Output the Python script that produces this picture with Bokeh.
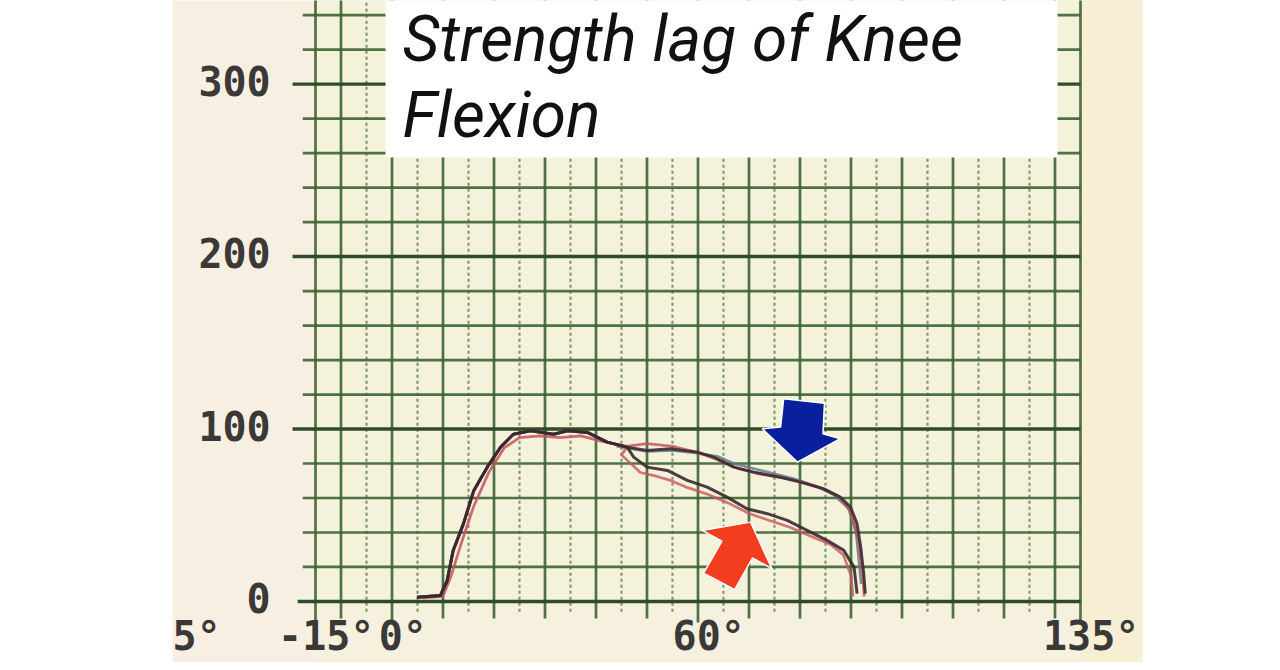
import numpy as np
from bokeh.plotting import figure
from bokeh.models import Range1d
from bokeh.core.properties import value
from bokeh.embed import file_html
from bokeh.resources import INLINE

# ---------------- data ----------------
# knee angle (degrees) / torque for the traced curves
rise_angle = [4.9, 9.5, 10.8, 12.0, 14.0, 16.0, 18.7, 21.3, 23.8, 27.2, 31.7, 34.4, 38.3, 42.2, 46.1]
rise_torque = [2.5, 3.5, 12.0, 29.6, 45.0, 64.0, 78.0, 89.5, 97.0, 99.0, 97.0, 99.0, 98.0, 92.4, 89.5]

upper_dark_angle = [50.0, 54.6, 59.8, 63.1, 67.0, 70.9, 76.2, 80.1, 84.7, 87.9, 89.9, 91.2, 91.9, 92.5, 92.8]
upper_dark_torque = [87.6, 88.5, 86.6, 83.7, 77.9, 75.0, 72.0, 69.2, 65.3, 60.5, 54.7, 45.0, 31.5, 16.0, 4.5]

upper_red_angle = [6.0, 10.0, 11.5, 13.5, 16.0, 19.0, 22.0, 25.0, 29.0, 33.0, 37.0, 41.0, 46.0, 50.0, 55.0, 60.0, 64.0, 68.0, 72.0, 76.0, 80.0, 84.0, 87.5, 90.0, 91.5, 92.3, 92.6]
upper_red_torque = [2.0, 3.0, 14.0, 33.0, 55.0, 75.0, 89.0, 95.0, 96.0, 95.0, 96.0, 93.0, 90.0, 91.5, 90.0, 86.4, 82.0, 77.0, 74.0, 72.0, 69.5, 66.0, 61.0, 52.0, 35.0, 15.0, 3.0]

upper_slate_angle = [44.0, 50.0, 55.0, 60.0, 64.0, 67.0, 71.0, 75.0, 79.0, 83.0, 86.5, 89.5, 91.0, 92.0]
upper_slate_torque = [90.0, 87.0, 87.5, 86.0, 84.0, 80.0, 77.0, 74.0, 71.0, 67.0, 62.0, 54.0, 40.0, 10.0]

lower_dark_angle = [47.4, 50.0, 54.0, 57.9, 61.8, 65.7, 69.6, 73.6, 77.5, 81.4, 85.3, 88.6, 90.6, 91.2]
lower_dark_torque = [83.7, 77.9, 76.0, 70.2, 66.3, 60.5, 53.8, 50.9, 47.0, 41.2, 35.4, 29.6, 19.9, 4.5]

lower_red_angle = [45.0, 48.7, 52.0, 54.6, 58.0, 62.0, 66.0, 70.0, 74.0, 78.0, 82.0, 86.0, 88.5, 90.0, 90.4]
lower_red_torque = [85.0, 74.8, 72.5, 70.2, 66.0, 62.0, 57.0, 51.0, 47.0, 43.0, 38.0, 33.0, 27.0, 15.0, 3.0]

# arrow annotations (angle, torque)
blue_arrow_angle = [76.8, 84.8, 84.5, 87.9, 79.5, 72.6, 76.2]
blue_arrow_torque = [117.6, 115.0, 97.3, 94.4, 80.8, 100.2, 101.1]
red_arrow_angle = [70.3, 74.5, 70.7, 67.2, 61.1, 64.7, 60.8]
red_arrow_torque = [46.0, 19.0, 25.3, 6.8, 16.4, 35.0, 41.2]

# tick labels
x_tick_values = [-15, 0, 60, 135]
x_tick_labels = ["-15°", "0°", "60°", "135°"]
x_edge_label = "5°"
y_tick_values = [0, 100, 200, 300]
y_tick_labels = ["0", "100", "200", "300"]

title_lines = ["Strength lag of Knee", "Flexion"]

# ---------------- figure ----------------
X0, X1 = -43.04, 147.16
Y0, Y1 = -35.4, 348.5
p = figure(width=1264, height=662, output_backend="svg", toolbar_location=None,
           x_range=Range1d(X0, X1), y_range=Range1d(Y0, Y1),
           x_axis_location=None, y_axis_location=None,
           min_border_left=172, min_border_right=122, min_border_top=0, min_border_bottom=0)
p.title.visible = False
p.grid.visible = False
p.outline_line_color = None
p.background_fill_color = "#f8efe3"
p.border_fill_color = "white"

# paper tints
p.quad(left=[-15], right=[135], bottom=[0], top=[Y1 + 5], fill_color="#f4f2da", line_color=None)
p.quad(left=[135], right=[X1 + 1], bottom=[Y0 - 1], top=[Y1 + 5], fill_color="#f8eed4", line_color=None)
p.quad(left=[-15], right=[135], bottom=[Y0 - 1], top=[0], fill_color="#f6f0de", line_color=None)

# grid
grid_col = "#3d6434"
solid_x = [-15, -10] + list(range(0, 131, 10)) + [135]
long_ticks = set(x_tick_values)
sx0 = [x for x in solid_x]
sy0 = [-12.2 if x in long_ticks else -9.9 for x in solid_x]
p.segment(x0=sx0, y0=sy0, x1=sx0, y1=[Y1 + 5] * len(sx0), line_color=grid_col, line_width=2.7, line_alpha=0.9)

dot_x = [-5] + list(range(5, 126, 10))
p.segment(x0=dot_x, y0=[-6] * len(dot_x), x1=dot_x, y1=[Y1 + 5] * len(dot_x),
          line_color="#6b8a5c", line_width=2.2, line_dash="3 3", line_alpha=0.85)

minor_y = [v for v in range(20, 345, 20) if v % 100 != 0]
p.segment(x0=[-17.5] * len(minor_y), y0=minor_y, x1=[135] * len(minor_y), y1=minor_y,
          line_color=grid_col, line_width=2.7, line_alpha=0.9)
major_y = [0, 100, 200, 300]
p.segment(x0=[-18.5, -19.5, -19.5, -19.5], y0=major_y, x1=[135] * 4, y1=major_y,
          line_color="#2f4c29", line_width=3.4)

# curves
def trace(a, t, color, width, alpha):
    p.line(a, t, line_color=color, line_width=width, line_alpha=alpha, line_join="round")

trace(upper_slate_angle, upper_slate_torque, "#5b7486", 2.6, 0.8)
trace(upper_red_angle, upper_red_torque, "#c4525c", 2.7, 0.85)
trace(rise_angle + lower_red_angle, rise_torque + lower_red_torque, "#c8555e", 2.7, 0.8)
trace(rise_angle + upper_dark_angle, rise_torque + upper_dark_torque, "#3b2a33", 3.0, 0.9)
trace(rise_angle + lower_dark_angle, rise_torque + lower_dark_torque, "#3a2830", 3.0, 0.9)

# arrows
p.patch(blue_arrow_angle, blue_arrow_torque, fill_color="#0a1f9e", line_color="white", line_width=1.5)
p.patch(red_arrow_angle, red_arrow_torque, fill_color="#f23d1e", line_color="white", line_width=1.5)

# title box
p.quad(left=[-1.27], right=[130.5], bottom=[257.5], top=[Y1 + 5], fill_color="white", line_color=None)
p.text(x=[2.06, 2.06], y=[326.1, 282.0], text=title_lines,
       text_font=value("Roboto"), text_font_style="italic", text_font_size="64px",
       text_color="#111111", text_align="left", text_baseline="alphabetic")

# tick labels
lab_col = "#3b3838"
p.text(x=[-23.8] * 4, y=[v + 1.8 for v in y_tick_values], text=y_tick_labels,
       text_font=value("DejaVu Sans Mono"), text_font_style="bold", text_font_size="40px",
       text_color=lab_col, text_align="right", text_baseline="middle")
p.text(x=[v + 2.1 for v in x_tick_values], y=[-20.3] * 4, text=x_tick_labels,
       text_font=value("DejaVu Sans Mono"), text_font_style="bold", text_font_size="40px",
       text_color=lab_col, text_align="center", text_baseline="middle")
p.text(x=[-38.3], y=[-20.3], text=[x_edge_label],
       text_font=value("DejaVu Sans Mono"), text_font_style="bold", text_font_size="40px",
       text_color=lab_col, text_align="center", text_baseline="middle")

open("out.html", "w").write(file_html(p, INLINE))
